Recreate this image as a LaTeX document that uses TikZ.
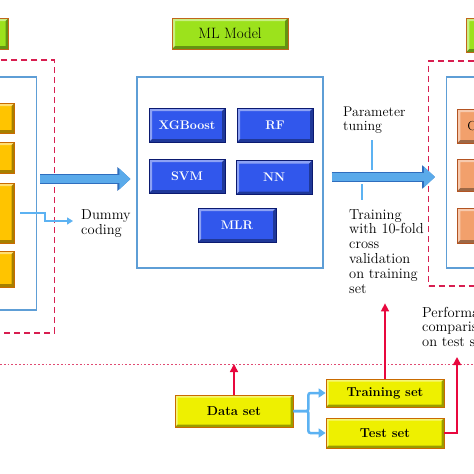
\documentclass[tikz,border=0pt]{standalone}
\usetikzlibrary{positioning,arrows.meta,calc}

\definecolor{limegreen}{HTML}{9CE21C}
\definecolor{brownedge}{HTML}{C0661A}
\definecolor{gold}{HTML}{FFC400}
\definecolor{goldedge}{HTML}{C96A00}
\definecolor{modelblue}{HTML}{3157EC}
\definecolor{navy}{HTML}{0B1A70}
\definecolor{peach}{HTML}{F2A06C}
\definecolor{rust}{HTML}{B35422}
\definecolor{setyellow}{HTML}{EEF000}
\definecolor{frameblue}{HTML}{5E9ED6}
\definecolor{dashred}{HTML}{D81E50}
\definecolor{arrowred}{HTML}{E8083E}
\definecolor{fatfill}{HTML}{5AAAEA}
\definecolor{fatedge}{HTML}{2F6EBE}
\definecolor{lineblue}{HTML}{5CB2F2}

\tikzset{
  bevel/.style={path picture={
    \fill[white, opacity=0.45] (path picture bounding box.south west) -- ++(#1,#1)
      |- ([xshift=-#1,yshift=-#1]path picture bounding box.north east)
      -- (path picture bounding box.north east) -- (path picture bounding box.north west) -- cycle;
    \fill[black, opacity=0.35] (path picture bounding box.south west) -- ++(#1,#1)
      -| ([xshift=-#1,yshift=-#1]path picture bounding box.north east)
      -- (path picture bounding box.north east) -- (path picture bounding box.south east) -- cycle;
  }},
  bevel/.default=3pt,
}

\begin{document}
\begin{tikzpicture}[
    x=1pt, y=-1pt,
    >=Stealth,
    titlebox/.style={draw=brownedge, fill=limegreen, bevel, line width=0.8pt, font=\fontsize{15}{17}\selectfont},
    featbox/.style={draw=goldedge, fill=gold, bevel, line width=0.8pt, minimum width=60pt},
    modelbox/.style={draw=navy, fill=modelblue, bevel, line width=0.9pt, minimum width=76pt, minimum height=34pt, text=white, font=\fontsize{12.5}{14}\selectfont\bfseries},
    metricbox/.style={draw=rust, fill=peach, bevel, line width=0.8pt},
    setbox/.style={draw=goldedge, fill=setyellow, bevel=2.5pt, line width=0.8pt, minimum width=118pt, font=\fontsize{13}{15}\selectfont\bfseries},
    container/.style={draw=frameblue, line width=1.1pt},
    dashframe/.style={draw=dashred, line width=1.4pt, dash pattern=on 6pt off 4pt},
    dotline/.style={draw=dashred!80, line width=0.9pt, dash pattern=on 1.8pt off 2pt},
    fatarrow/.style={draw=fatfill, line width=8pt, -{Triangle[width=20pt,length=11pt]},
      preaction={draw=fatedge, line width=10pt, -{Triangle[width=23pt,length=13pt]}}},
    thinline/.style={draw=lineblue, line width=1.3pt},
    thinarrow/.style={thinline, -{Triangle[width=7pt,length=6pt]}},
    forkarrow/.style={draw=lineblue, line width=2.5pt, rounded corners=2pt, -{Triangle[width=9pt,length=7pt]}},
    redarrow/.style={draw=arrowred, line width=1.5pt, -{Triangle[width=8pt,length=8pt]}},
    note/.style={font=\fontsize{14.5}{14.8}\selectfont, align=left, inner sep=0pt},
]

% ---- Canvas ----
\useasboundingbox (0,0) rectangle (474,474);
\fill[white] (0,0) rectangle (474,474);
\clip (0,0) rectangle (474,474);

% ---- Titles ----
\node[titlebox, minimum width=110pt, minimum height=31pt, anchor=east] (ltitle) at (9,33.5) {};
\node[titlebox, minimum width=116pt, minimum height=31pt] (mltitle) at (230,33.5) {ML Model};
\node[titlebox, minimum width=110pt, minimum height=34pt, anchor=west] (rtitle) at (466,35) {};

% ---- Left: input features ----
\node[dashframe, minimum width=170pt, minimum height=273pt, anchor=east] (ldash) at (55,196.5) {};
\node[container, minimum width=150pt, minimum height=233pt, anchor=east] (lframe) at (37,193.5) {};
\node[featbox, minimum height=30pt, anchor=east] (f1) at (15,118) {};
\node[featbox, minimum height=31pt, anchor=east] (f2) at (15,157.5) {};
\node[featbox, minimum height=60pt, anchor=east] (f3) at (15,213) {};
\node[featbox, minimum height=36pt, anchor=east] (f4) at (15,269) {};

\node[note, font=\fontsize{14.5}{15}\selectfont, anchor=west] (dummy) at (81,224) {Dummy\\coding};
\draw[thinarrow] ([xshift=5pt]f3.east) -- ++(25,0) |- ($(dummy.west)+(-8pt,3pt)$);

% ---- Middle: models ----
\node[container, minimum width=186pt, minimum height=191pt] (mlframe) at (230,172.5) {};
\node[modelbox] (xgb) at (187,125) {XGBoost};
\node[modelbox] (rf) at (275,125) {RF};
\node[modelbox] (svm) at (187,176) {SVM};
\node[modelbox] (nn) at (274,177.5) {NN};
\node[modelbox, minimum width=78pt] (mlr) at (237,225) {MLR};

\coordinate (fatrow1) at (0,179);
\draw[fatarrow] ($(lframe.east |- fatrow1)+(3pt,0)$) -- ($(mlframe.west |- fatrow1)+(-6pt,0)$);

% ---- Right: evaluation ----
\node[dashframe, minimum width=150pt, minimum height=225pt, anchor=west] (rdash) at (428,173.5) {};
\node[container, minimum width=150pt, minimum height=191pt, anchor=west] (rframe) at (446,172.5) {};
\node[metricbox, minimum height=34pt, anchor=west, text width=40pt, align=left, inner xsep=10pt,
      font=\fontsize{13}{15}\selectfont] (m1) at (457,126) {C};
\node[metricbox, minimum width=60pt, minimum height=32pt, anchor=west] (m2) at (457,175) {};
\node[metricbox, minimum width=60pt, minimum height=35pt, anchor=west] (m3) at (457,225.5) {};

\coordinate (fatrow2) at (0,177);
\draw[fatarrow] ($(mlframe.east |- fatrow2)+(8pt,0)$) -- ($(rframe.west |- fatrow2)+(-11pt,0)$);

\node[note, font=\fontsize{14}{13.5}\selectfont, anchor=west] (tuning) at (343,120) {Parameter\\tuning};
\coordinate (tunetip) at (372,170);
\draw[thinline] ([yshift=-7pt]tuning.south -| tunetip) -- (tunetip);

\node[note, anchor=north west] (cvtext) at (349,209) {Training\\with 10-fold\\cross\\validation\\on training\\set};
\coordinate (cvfoot) at (362,184);
\draw[thinline] (cvfoot) -- ([yshift=9pt]cvtext.north -| cvfoot);

\node[note, font=\fontsize{14.5}{14.5}\selectfont, anchor=north west] (perf) at (422,307) {Performance\\comparison\\on test set};

% ---- Divider ----
\coordinate (dotl) at (0,364);
\coordinate (dotr) at (474,364);
\draw[dotline] (dotl) -- (dotr);

% ---- Bottom: data split ----
\node[setbox, minimum height=32pt] (dataset) at (234,411) {Data set};
\node[setbox, minimum height=28pt] (trainset) at (385,393) {Training set};
\node[setbox, minimum height=30pt] (testset) at (385,433) {Test set};

\draw[forkarrow] (dataset.east) -- ++(15,0) |- (trainset.west);
\draw[forkarrow] (dataset.east) -- ++(15,0) |- (testset.west);

\coordinate (perftip) at (457,357);
\draw[redarrow] (dataset.north) -- (dataset.north |- dotl);
\draw[redarrow] (trainset.north) -- ($(trainset.north |- cvtext.south)+(0,-10pt)$);
\draw[redarrow] (testset.east) -| (perftip);

\end{tikzpicture}
\end{document}
